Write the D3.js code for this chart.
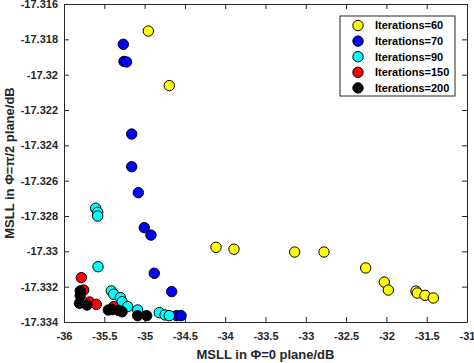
<!DOCTYPE html>
<html>
<head>
<meta charset="utf-8">
<script src="https://cdn.jsdelivr.net/npm/d3@7"></script>
<style>
  body { margin: 0; background: #fff; }
  svg { display: block; font-family: "Liberation Sans", Arial, sans-serif; }
</style>
</head>
<body>
<svg id="chart"></svg>
<script>
// series
var seriesNames = ["Iterations=60", "Iterations=70", "Iterations=90", "Iterations=150", "Iterations=200"]
var seriesColors = ["#ffff00", "#0000ff", "#00ffff", "#ff0000", "#000000"]

var x60 = [-34.954, -34.694, -34.114, -33.891, -33.138, -32.774, -32.257, -32.026, -31.976, -31.633, -31.617, -31.521, -31.418]
var y60 = [-17.31753, -17.32062, -17.32977, -17.32988, -17.33004, -17.33004, -17.33094, -17.33174, -17.33219, -17.33225, -17.33236, -17.33249, -17.33264]

var x70 = [-35.264, -35.256, -35.225, -35.160, -35.160, -35.078, -35.004, -34.921, -34.880, -34.664, -34.602, -34.548]
var y70 = [-17.31828, -17.31925, -17.31928, -17.32336, -17.32521, -17.32668, -17.32866, -17.32908, -17.33124, -17.33228, -17.33364, -17.33364]

var x90 = [-35.607, -35.582, -35.582, -35.578, -35.413, -35.383, -35.301, -35.280, -35.210, -35.086, -34.818, -34.747, -34.694]
var y90 = [-17.32756, -17.32779, -17.32800, -17.33087, -17.33224, -17.33243, -17.33262, -17.33285, -17.33313, -17.33332, -17.33347, -17.33360, -17.33364]

var x150 = [-35.785, -35.756, -35.684, -35.599, -35.383]
var y150 = [-17.33149, -17.33219, -17.33287, -17.33300, -17.33313]

var x200 = [-35.798, -35.798, -35.808, -35.715, -35.450, -35.404, -35.321, -35.280, -35.086, -34.974]
var y200 = [-17.33224, -17.33251, -17.33294, -17.33304, -17.33332, -17.33329, -17.33335, -17.33342, -17.33364, -17.33364]

var xTicks = [-36, -35.5, -35, -34.5, -34, -33.5, -33, -32.5, -32, -31.5, -31]
var yTicks = [-17.334, -17.332, -17.33, -17.328, -17.326, -17.324, -17.322, -17.32, -17.318, -17.316]

var allX = [x60, x70, x90, x150, x200]
var allY = [y60, y70, y90, y150, y200]

var dimensions = {
    width: 474,
    height: 363,
    margin: { top: 4, bottom: 41, right: 7, left: 64 }
}

var svg = d3.select("#chart")
    .attr("width", dimensions.width)
    .attr("height", dimensions.height)

var xScale = d3.scaleLinear()
    .domain([-36, -31])
    .range([dimensions.margin.left, dimensions.width - dimensions.margin.right])

var yScale = d3.scaleLinear()
    .domain([-17.334, -17.316])
    .range([dimensions.height - dimensions.margin.bottom, dimensions.margin.top])

var axisColor = "#262626"
var fmt = d => String(+d.toFixed(3))

// bottom + left axes with tick labels, ticks pointing inward
var xAxis = svg.append("g")
    .attr("transform", `translate(0,${yScale.range()[0]})`)
    .call(d3.axisBottom(xScale).tickValues(xTicks).tickFormat(fmt).tickSizeInner(-5).tickSizeOuter(0).tickPadding(10))
var yAxis = svg.append("g")
    .attr("transform", `translate(${xScale.range()[0]},0)`)
    .call(d3.axisLeft(yScale).tickValues(yTicks).tickFormat(fmt).tickSizeInner(-5).tickSizeOuter(0).tickPadding(6))

// top + right box lines with ticks only
var xTop = svg.append("g")
    .attr("transform", `translate(0,${yScale.range()[1]})`)
    .call(d3.axisTop(xScale).tickValues(xTicks).tickFormat("").tickSizeInner(-5).tickSizeOuter(0))
var yRight = svg.append("g")
    .attr("transform", `translate(${xScale.range()[1]},0)`)
    .call(d3.axisRight(yScale).tickValues(yTicks).tickFormat("").tickSizeInner(-5).tickSizeOuter(0))

svg.selectAll(".domain").attr("stroke", axisColor)
svg.selectAll(".tick line").attr("stroke", axisColor)
svg.selectAll(".tick text")
    .attr("fill", axisColor)
    .style("font-size", "11px")
    .style("font-weight", "bold")

// points, drawn series by series so black ends on top
allX.forEach(function(xs, i){
    var pts = xs.map((v, j) => ({x: v, y: allY[i][j]}))
    svg.append("g").selectAll("circle")
        .data(pts)
        .enter()
        .append("circle")
        .attr("cx", d => xScale(d.x))
        .attr("cy", d => yScale(d.y))
        .attr("r", 5.2)
        .attr("fill", seriesColors[i])
        .attr("stroke", "#000")
        .attr("stroke-width", 1)
})

// axis titles
svg.append("text")
    .attr("x", (xScale.range()[0] + xScale.range()[1]) / 2)
    .attr("y", 359)
    .attr("text-anchor", "middle")
    .style("font-size", "13px")
    .style("font-weight", "bold")
    .attr("fill", axisColor)
    .text("MSLL in \u03A6=0 plane/dB")

svg.append("text")
    .attr("transform", `translate(14,${(yScale.range()[0] + yScale.range()[1]) / 2}) rotate(-90)`)
    .attr("text-anchor", "middle")
    .style("font-size", "13px")
    .style("font-weight", "bold")
    .attr("fill", axisColor)
    .text("MSLL in \u03A6=\u03C0/2 plane/dB")

// legend
var legend = svg.append("g").attr("transform", "translate(340,16)")
legend.append("rect")
    .attr("width", 115)
    .attr("height", 80)
    .attr("fill", "#fff")
    .attr("stroke", axisColor)
    .attr("stroke-width", 1)

var rows = legend.selectAll("g.row")
    .data(seriesNames)
    .enter()
    .append("g")
    .attr("transform", (d, i) => `translate(0,${9.5 + i * 15.6})`)
rows.append("circle")
    .attr("cx", 18)
    .attr("r", 5.2)
    .attr("fill", (d, i) => seriesColors[i])
    .attr("stroke", "#000")
rows.append("text")
    .attr("x", 35)
    .attr("dy", "0.35em")
    .style("font-size", "11px")
    .style("font-weight", "bold")
    .attr("fill", "#000")
    .text(d => d)
</script>
</body>
</html>
